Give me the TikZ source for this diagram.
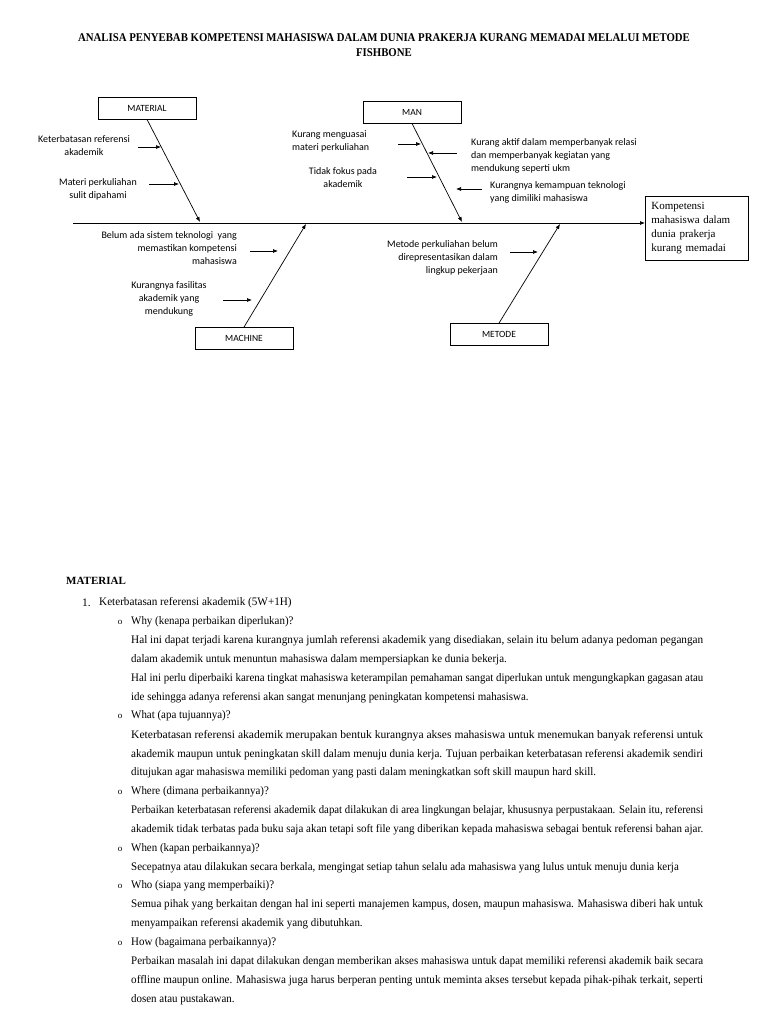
\documentclass[tikz,border=0pt]{standalone}
\usepackage{fontspec}
\setmainfont{Liberation Serif}
\newfontfamily\carl{Carlito}
\usetikzlibrary{arrows.meta}
\newcommand\fullline[1]{\resizebox{572pt}{\height}{#1}}
\newcommand\partln[1]{\scalebox{0.95}[1]{#1}}
\tikzset{
  catbox/.style={draw, line width=0.8pt, minimum width=98pt, minimum height=22pt, inner sep=0pt, font=\carl\fontsize{9.5}{11}\selectfont},
  lbl/.style={inner sep=0pt, font=\carl\fontsize{10}{13}\selectfont},
  bone/.style={line width=0.7pt, -{Latex[length=5pt,width=4pt]}},
  body/.style={inner sep=0pt, anchor=west, font=\fontsize{11.5}{14}\selectfont},
  bul/.style={inner sep=0pt, font=\fontsize{9}{9}\selectfont},
}
\begin{document}
\begin{tikzpicture}[x=1pt,y=-1pt]
\useasboundingbox (0,0) rectangle (768,1024);
\fill[white] (0,0) rectangle (768,1024);

% title
\node[inner sep=0pt, align=center, font=\bfseries\fontsize{11}{15}\selectfont] (title) at (384,45.5)
  {\scalebox{0.98}[1.08]{ANALISA PENYEBAB KOMPETENSI MAHASISWA DALAM DUNIA PRAKERJA KURANG MEMADAI MELALUI METODE}\\\scalebox{0.98}[1.08]{FISHBONE}};

% category boxes
\node[catbox] (material) at (147,108) {MATERIAL};
\node[catbox] (man) at (412,112) {MAN};
\node[catbox] (machine) at (244,338.5) {MACHINE};
\node[catbox] (metode) at (499,334.5) {METODE};

% effect box
\node[draw, line width=0.8pt, anchor=north west, minimum width=103pt, minimum height=64pt,
      text width=91pt, inner xsep=6pt, inner ysep=4pt, align=left,
      font=\fontsize{11}{14}\selectfont] (effect) at (645,196)
  {Kompetensi\\mahasiswa dalam\\dunia prakerja\\kurang memadai};

% main spine
\coordinate (tail) at (73,223);
\draw[bone] (tail) -- (tail -| effect.west);

% bones
\coordinate (jmat) at (200,222);
\coordinate (jman) at (462,222);
\coordinate (jmac) at (306,224);
\coordinate (jmet) at (560,224);
\draw[bone] (material.south) -- (jmat);
\draw[bone] (man.south) -- (jman);
\draw[bone] (machine.north) -- (jmac);
\draw[bone] (metode.north) -- (jmet);

% cause labels
\node[lbl, align=center] (c1) at (84,146) {Keterbatasan referensi\\akademik};
\node[lbl, align=center] (c2) at (98,189) {Materi perkuliahan\\sulit dipahami};
\node[lbl, align=left, anchor=west] (c3) at (292,141) {Kurang menguasai\\materi perkuliahan};
\node[lbl, align=center] (c4) at (343,178) {Tidak fokus pada\\akademik};
\node[lbl, align=left, anchor=west] (c5) at (471,156) {Kurang aktif dalam memperbanyak relasi\\dan memperbanyak kegiatan yang\\mendukung seperti ukm};
\node[lbl, align=left, anchor=west] (c6) at (490,192) {Kurangnya kemampuan teknologi\\yang dimiliki mahasiswa};
\node[lbl, align=right, anchor=east] (c7) at (237,248) {Belum ada sistem teknologi\ \ yang\\memastikan kompetensi\\mahasiswa};
\node[lbl, align=center] (c8) at (169,299) {Kurangnya fasilitas\\akademik yang\\mendukung};
\node[lbl, align=right, anchor=east] (c9) at (498,258) {Metode perkuliahan belum\\direpresentasikan dalam\\lingkup pekerjaan};

% cause arrows
\coordinate (a1s) at (138,147); \coordinate (a1e) at (161,147);
\coordinate (a2s) at (149,184); \coordinate (a2e) at (179,184);
\coordinate (a3s) at (398,144); \coordinate (a3e) at (421,144);
\coordinate (a4s) at (457,153); \coordinate (a4e) at (428,153);
\coordinate (a5s) at (407,177); \coordinate (a5e) at (437,177);
\coordinate (a6s) at (482,189); \coordinate (a6e) at (456,189);
\coordinate (a7s) at (250,251); \coordinate (a7e) at (278,251);
\coordinate (a8s) at (223,300); \coordinate (a8e) at (252,300);
\coordinate (a9s) at (510,252); \coordinate (a9e) at (538,252);
\foreach \i in {1,...,9} {\draw[bone] (a\i s) -- (a\i e);}

% body text
\node[body, font=\bfseries\fontsize{11}{14}\selectfont] (h) at (66,581) {MATERIAL};
\node[body] (n1) at (82,603) {1.};
\node[body] (t1) at (99,603) {\scalebox{0.97}[1]{Keterbatasan referensi akademik (5W+1H)}};

\node[bul] (b1) at (120,622) {o};
\node[body] (q1) at (131,622) {\partln{Why (kenapa perbaikan diperlukan)?}};
\node[body] (l1) at (131,641) {\fullline{Hal ini dapat terjadi karena kurangnya jumlah referensi akademik yang disediakan, selain itu belum adanya pedoman pegangan}};
\node[body] (l2) at (131,660) {\partln{dalam akademik untuk menuntun mahasiswa dalam mempersiapkan ke dunia bekerja.}};
\node[body] (l3) at (131,679) {\fullline{Hal ini perlu diperbaiki karena tingkat mahasiswa keterampilan pemahaman sangat diperlukan untuk mengungkapkan gagasan atau}};
\node[body] (l4) at (131,698) {\partln{ide sehingga adanya referensi akan sangat menunjang peningkatan kompetensi mahasiswa.}};

\node[bul] (b2) at (120,716) {o};
\node[body] (q2) at (131,716) {\partln{What (apa tujuannya)?}};
\node[body] (l5) at (131,736) {\fullline{Keterbatasan referensi akademik merupakan bentuk kurangnya akses mahasiswa untuk menemukan banyak referensi untuk}};
\node[body] (l6) at (131,755) {\fullline{akademik maupun untuk peningkatan skill dalam menuju dunia kerja. Tujuan perbaikan keterbatasan referensi akademik sendiri}};
\node[body] (l7) at (131,773) {\partln{ditujukan agar mahasiswa memiliki pedoman yang pasti dalam meningkatkan soft skill maupun hard skill.}};

\node[bul] (b3) at (120,792) {o};
\node[body] (q3) at (131,792) {\partln{Where (dimana perbaikannya)?}};
\node[body] (l8) at (131,811) {\fullline{Perbaikan keterbatasan referensi akademik dapat dilakukan di area lingkungan belajar, khususnya perpustakaan. Selain itu, referensi}};
\node[body] (l9) at (131,830) {\fullline{akademik tidak terbatas pada buku saja akan tetapi soft file yang diberikan kepada mahasiswa sebagai bentuk referensi bahan ajar.}};

\node[bul] (b4) at (120,849) {o};
\node[body] (q4) at (131,849) {\partln{When (kapan perbaikannya)?}};
\node[body] (l10) at (131,868) {\partln{Secepatnya atau dilakukan secara berkala, mengingat setiap tahun selalu ada mahasiswa yang lulus untuk menuju dunia kerja}};

\node[bul] (b5) at (120,886) {o};
\node[body] (q5) at (131,886) {\partln{Who (siapa yang memperbaiki)?}};
\node[body] (l11) at (131,905) {\fullline{Semua pihak yang berkaitan dengan hal ini seperti manajemen kampus, dosen, maupun mahasiswa. Mahasiswa diberi hak untuk}};
\node[body] (l12) at (131,924) {\partln{menyampaikan referensi akademik yang dibutuhkan.}};

\node[bul] (b6) at (120,943) {o};
\node[body] (q6) at (131,943) {\partln{How (bagaimana perbaikannya)?}};
\node[body] (l13) at (131,962) {\fullline{Perbaikan masalah ini dapat dilakukan dengan memberikan akses mahasiswa untuk dapat memiliki referensi akademik baik secara}};
\node[body] (l14) at (131,981) {\fullline{offline maupun online. Mahasiswa juga harus berperan penting untuk meminta akses tersebut kepada pihak-pihak terkait, seperti}};
\node[body] (l15) at (131,1000) {\partln{dosen atau pustakawan.}};
\end{tikzpicture}
\end{document}
